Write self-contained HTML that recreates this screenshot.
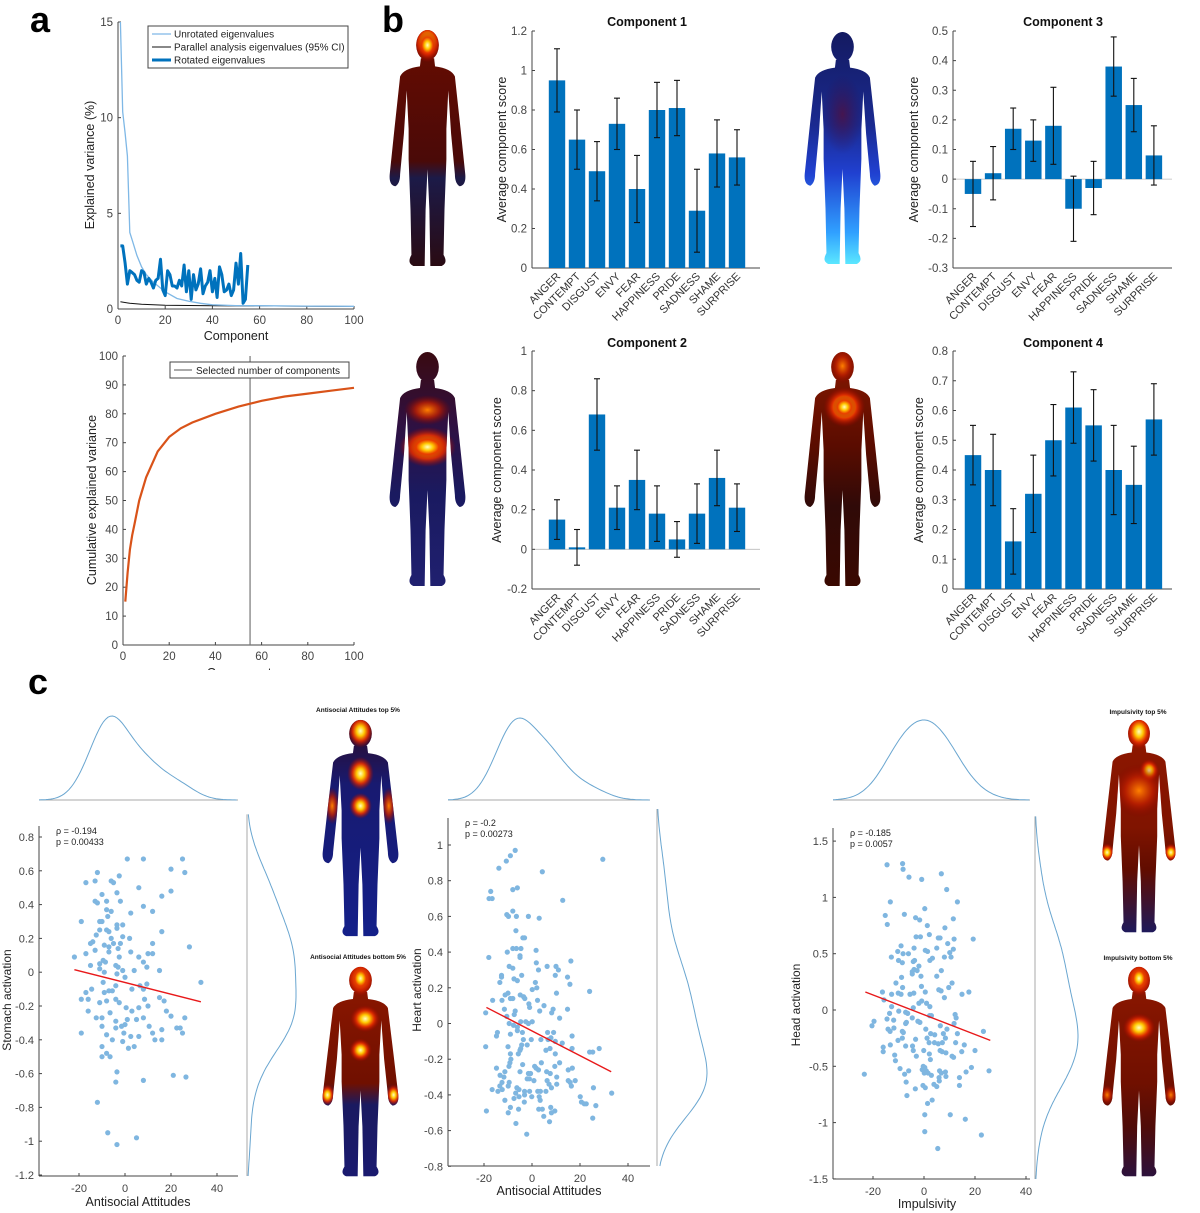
<!DOCTYPE html>
<html><head><meta charset="utf-8"><style>
html,body{margin:0;padding:0;background:#fff;}
svg{display:block;font-family:"Liberation Sans",sans-serif;}
</style></head><body>
<svg id="fig" width="1200" height="1213" viewBox="0 0 1200 1213" xmlns="http://www.w3.org/2000/svg">
<defs>
<radialGradient id="hot" cx="0.5" cy="0.5" r="0.5">
<stop offset="0" stop-color="#ffffc0"/><stop offset="0.3" stop-color="#ffc800"/><stop offset="0.6" stop-color="#e83000" stop-opacity="0.9"/><stop offset="1" stop-color="#a00000" stop-opacity="0"/>
</radialGradient>
<radialGradient id="warm" cx="0.5" cy="0.5" r="0.5">
<stop offset="0" stop-color="#ff8000"/><stop offset="0.5" stop-color="#c02000" stop-opacity="0.8"/><stop offset="1" stop-color="#800000" stop-opacity="0"/>
</radialGradient>
<radialGradient id="dim" cx="0.5" cy="0.5" r="0.5">
<stop offset="0" stop-color="#501040" stop-opacity="0.8"/><stop offset="1" stop-color="#301050" stop-opacity="0"/>
</radialGradient>
</defs>
<text x="30" y="32" font-size="36" font-weight="bold">a</text>
<text x="382" y="32" font-size="36" font-weight="bold">b</text>
<text x="28" y="694" font-size="36" font-weight="bold">c</text>
</svg>
<script>
const NS='http://www.w3.org/2000/svg';
const svg=document.getElementById('fig');
function mk(tag,attrs,name,parent){
  const el=document.createElementNS(NS,tag);
  for(const k in attrs) el.setAttribute(k,attrs[k]);
  
  
  (parent||svg).appendChild(el);
  return el;
}
function txt(x,y,s,opts,name,parent){
  const el=mk('text',Object.assign({x:x,y:y,'font-size':11.5,fill:'#444'},opts||{}),name,parent);
  el.textContent=s;return el;
}

// ===== Panel a data =====
const unrotX=[1,2,3,4,5,6,8,10,12,15,18,20,25,30,35,40,50,60,80,100];
const unrotY=[15,10.3,9.2,8,4,3.6,2.8,2.2,1.8,1.4,1.1,0.9,0.55,0.4,0.3,0.22,0.18,0.17,0.15,0.14];
const parX=[1,5,10,20,40,100];
const parY=[0.38,0.3,0.25,0.2,0.17,0.13];
const rotY=[3.3,3.3,2.4,1.3,2.0,1.9,1.8,1.5,1.4,2.0,1.9,1.3,1.6,1.4,1.1,1.5,1.6,2.6,1.0,0.7,2.0,1.8,1.2,1.2,1.1,1.5,1.2,2.3,0.9,2.0,0.5,1.8,1.0,1.3,2.1,0.8,1.2,1.4,2.0,0.9,1.6,0.6,2.2,1.8,0.9,1.0,1.3,0.7,1.0,2.4,1.3,2.9,0.3,0.5,2.3];
const cumX=[1,2,3,4,5,7,10,15,20,25,30,40,50,55,60,70,80,90,100];
const cumY=[15,25,33,38,42,50,58,67,72,75,77,80,82.5,83.5,84.5,86,87,88,89];
const selectedComponents=55;
const aTopYTicks=[0,5,10,15];
const aXTicks=[0,20,40,60,80,100];
const aBotYTicks=[0,10,20,30,40,50,60,70,80,90,100];

function axesBasic(L,R,T,B,name){
  mk('line',{x1:L,y1:T,x2:L,y2:B,stroke:'#444','stroke-width':1},name+'-y-axis');
  mk('line',{x1:L,y1:B,x2:R,y2:B,stroke:'#444','stroke-width':1},name+'-x-axis');
}
function poly(pts,opts,name){
  return mk('polyline',Object.assign({points:pts.map(p=>p[0].toFixed(1)+','+p[1].toFixed(1)).join(' '),fill:'none'},opts),name);
}
// top a
(function(){
  const L=118,R=354,T=22,B=309;
  const x=v=>L+v/100*(R-L), y=v=>B-v/15*(B-T);
  axesBasic(L,R,T,B,'eigen');
  aTopYTicks.forEach(t=>{mk('line',{x1:L,y1:y(t),x2:L+3,y2:y(t),stroke:'#444'},'eigen-y-tick');txt(L-5,y(t)+4,String(t),{'text-anchor':'end'},'eigen-y-tick-label');});
  aXTicks.forEach(t=>{mk('line',{x1:x(t),y1:B,x2:x(t),y2:B-3,stroke:'#444'},'eigen-x-tick');txt(x(t),B+15,String(t),{'text-anchor':'middle'},'eigen-x-tick-label');});
  txt(236,340,'Component',{'text-anchor':'middle','font-size':12.5,fill:'#222'},'eigen-x-axis-title');
  txt(0,0,'Explained variance (%)',{'text-anchor':'middle','font-size':12.5,fill:'#222',transform:'translate(94,165) rotate(-90)'},'eigen-y-axis-title');
  poly(parX.map((v,i)=>[x(v),y(parY[i])]),{stroke:'#111','stroke-width':1},'parallel-analysis-line');
  poly(unrotX.map((v,i)=>[x(v),y(unrotY[i])]),{stroke:'#7fb8e6','stroke-width':1.3},'unrotated-eigenvalues-line');
  poly(rotY.map((v,i)=>[x(i+1),y(v)]),{stroke:'#0072BD','stroke-width':3,'stroke-linejoin':'round'},'rotated-eigenvalues-line');
  mk('rect',{x:148,y:26,width:200,height:42,fill:'#fff',stroke:'#444'},'eigen-legend');
  const ent=[['Unrotated eigenvalues','#7fb8e6',1.3],['Parallel analysis eigenvalues (95% CI)','#111',1],['Rotated eigenvalues','#0072BD',3]];
  ent.forEach((e,i)=>{const yy=34+i*13;mk('line',{x1:152,y1:yy,x2:171,y2:yy,stroke:e[1],'stroke-width':e[2]},'legend-swatch');txt(174,yy+3.5,e[0],{'font-size':10,fill:'#222'},'legend-entry');});
})();
// bottom a
(function(){
  const L=123,R=354,T=356,B=645;
  const x=v=>L+v/100*(R-L), y=v=>B-v/100*(B-T);
  axesBasic(L,R,T,B,'cumulative');
  aBotYTicks.forEach(t=>{mk('line',{x1:L,y1:y(t),x2:L+3,y2:y(t),stroke:'#444'},'cum-y-tick');txt(L-5,y(t)+4,String(t),{'text-anchor':'end'},'cum-y-tick-label');});
  aXTicks.forEach(t=>{mk('line',{x1:x(t),y1:B,x2:x(t),y2:B-3,stroke:'#444'},'cum-x-tick');txt(x(t),B+15,String(t),{'text-anchor':'middle'},'cum-x-tick-label');});
  txt(239,677,'Component',{'text-anchor':'middle','font-size':12.5,fill:'#222'},'cum-x-axis-title');
  mk('rect',{x:150,y:670,width:200,height:12,fill:'#fff'},'title-crop-mask');
  txt(0,0,'Cumulative explained variance',{'text-anchor':'middle','font-size':12.5,fill:'#222',transform:'translate(96,500) rotate(-90)'},'cum-y-axis-title');
  mk('line',{x1:x(selectedComponents),y1:T,x2:x(selectedComponents),y2:B,stroke:'#777','stroke-width':1.2},'selected-components-line');
  poly(cumX.map((v,i)=>[x(v),y(cumY[i])]),{stroke:'#D95319','stroke-width':2.2},'cumulative-variance-line');
  mk('rect',{x:170,y:362,width:179,height:16,fill:'#fff',stroke:'#444'},'cum-legend');
  mk('line',{x1:174,y1:370,x2:192,y2:370,stroke:'#777','stroke-width':1.2},'legend-swatch');
  txt(196,374,'Selected number of components',{'font-size':10,fill:'#222'},'legend-entry');
})();

// ===== Panel b =====
const emotions=['ANGER','CONTEMPT','DISGUST','ENVY','FEAR','HAPPINESS','PRIDE','SADNESS','SHAME','SURPRISE'];
const comp1=[0.95,0.65,0.49,0.73,0.40,0.80,0.81,0.29,0.58,0.56];
const comp1Err=[0.16,0.15,0.15,0.13,0.17,0.14,0.14,0.21,0.17,0.14];
const comp2=[0.15,0.01,0.68,0.21,0.35,0.18,0.05,0.18,0.36,0.21];
const comp2Err=[0.10,0.09,0.18,0.11,0.15,0.14,0.09,0.15,0.14,0.12];
const comp3=[-0.05,0.02,0.17,0.13,0.18,-0.10,-0.03,0.38,0.25,0.08];
const comp3Err=[0.11,0.09,0.07,0.07,0.13,0.11,0.09,0.10,0.09,0.10];
const comp4=[0.45,0.40,0.16,0.32,0.50,0.61,0.55,0.40,0.35,0.57];
const comp4Err=[0.10,0.12,0.11,0.13,0.12,0.12,0.12,0.15,0.13,0.12];
const c1Ticks=[0,0.2,0.4,0.6,0.8,1,1.2];
const c2Ticks=[-0.2,0,0.2,0.4,0.6,0.8,1];
const c3Ticks=[-0.3,-0.2,-0.1,0,0.1,0.2,0.3,0.4,0.5];
const c4Ticks=[0,0.1,0.2,0.3,0.4,0.5,0.6,0.7,0.8];

function barChart(c){
  const y=v=>c.B-(v-c.ymin)/(c.ymax-c.ymin)*(c.B-c.T);
  const x=i=>c.L+c.off+i*c.step;
  mk('line',{x1:c.L,y1:c.T,x2:c.L,y2:c.B,stroke:'#444'},c.name+'-y-axis');
  mk('line',{x1:c.L,y1:c.B,x2:c.R,y2:c.B,stroke:'#444'},c.name+'-x-axis');
  if(c.ymin<0) mk('line',{x1:c.L,y1:y(0),x2:c.R,y2:y(0),stroke:'#bbb','stroke-width':0.8},c.name+'-zero-line');
  c.ticks.forEach(t=>{mk('line',{x1:c.L,y1:y(t),x2:c.L+3,y2:y(t),stroke:'#444'},c.name+'-y-tick');txt(c.L-5,y(t)+4,String(t),{'text-anchor':'end'},c.name+'-y-tick-label');});
  c.vals.forEach((v,i)=>{
    const cx=x(i),w=c.step*0.82;
    mk('rect',{x:cx-w/2,y:Math.min(y(v),y(0)),width:w,height:Math.abs(y(v)-y(0)),fill:'#0072BD'},c.name+'-bar-'+emotions[i].toLowerCase());
    const e=c.errs[i];
    mk('line',{x1:cx,y1:y(v-e),x2:cx,y2:y(v+e),stroke:'#111','stroke-width':1.1},'error-bar');
    mk('line',{x1:cx-3,y1:y(v+e),x2:cx+3,y2:y(v+e),stroke:'#111','stroke-width':1.1},'error-cap');
    mk('line',{x1:cx-3,y1:y(v-e),x2:cx+3,y2:y(v-e),stroke:'#111','stroke-width':1.1},'error-cap');
    txt(0,0,emotions[i],{'text-anchor':'end','font-size':11,fill:'#333',transform:`translate(${cx+4},${c.B+9}) rotate(-45)`},c.name+'-category-label');
  });
  txt(c.tx,c.ty,c.title,{'text-anchor':'middle','font-size':12.5,'font-weight':'bold',fill:'#111'},c.name+'-title');
  txt(0,0,'Average component score',{'text-anchor':'middle','font-size':12.5,fill:'#222',transform:`translate(${c.lx},${(c.T+c.B)/2}) rotate(-90)`},c.name+'-y-axis-title');
}
barChart({name:'component-1',L:532,R:760,T:31,B:268,ymin:0,ymax:1.2,off:25,step:20,vals:comp1,errs:comp1Err,ticks:c1Ticks,title:'Component 1',tx:647,ty:26,lx:506});
barChart({name:'component-2',L:532,R:760,T:351,B:589,ymin:-0.2,ymax:1,off:25,step:20,vals:comp2,errs:comp2Err,ticks:c2Ticks,title:'Component 2',tx:647,ty:347,lx:501});
barChart({name:'component-3',L:953,R:1172,T:31,B:268,ymin:-0.3,ymax:0.5,off:20,step:20.1,vals:comp3,errs:comp3Err,ticks:c3Ticks,title:'Component 3',tx:1063,ty:26,lx:918});
barChart({name:'component-4',L:953,R:1172,T:351,B:589,ymin:0,ymax:0.8,off:20,step:20.1,vals:comp4,errs:comp4Err,ticks:c4Ticks,title:'Component 4',tx:1063,ty:347,lx:923});

// ===== body maps =====
const bodyPath='M38 30 L52 30 L53 38 Q70 40 74 48 L80 100 L85 145 Q86 156 79 157 Q74 154 74 145 L70 105 L67 62 L65 100 L65 130 L63 180 L62 225 Q67 233 60 236 L48 236 L47 180 L45 140 L43 180 L42 236 L30 236 Q23 233 28 225 L27 180 L25 130 L25 100 L23 62 L20 105 L16 145 Q16 154 11 157 Q4 156 5 145 L10 100 L16 48 Q20 40 37 38 Z';
let bid=0;
function body(X,Y,W,H,stops,spots,name){
  bid++;
  const g=mk('g',{transform:`translate(${X},${Y}) scale(${W/90},${H/240})`},name);
  const defs=mk('defs',{},'body-defs',g);
  const cp=mk('clipPath',{id:'bc'+bid},'body-clip',defs);
  mk('path',{d:bodyPath},'body-clip-shape',cp);
  mk('ellipse',{cx:45,cy:17,rx:12,ry:15},'body-clip-head',cp);
  const lg=mk('linearGradient',{id:'bg'+bid,x1:0,y1:0,x2:0,y2:1},'body-base-gradient',defs);
  stops.forEach(s=>mk('stop',{offset:s[0],'stop-color':s[1]},'gradient-stop',lg));
  const inner=mk('g',{'clip-path':`url(#bc${bid})`},'body-fill',g);
  mk('rect',{x:0,y:0,width:90,height:240,fill:`url(#bg${bid})`},'body-base',inner);
  spots.forEach(s=>mk('ellipse',{cx:s[0],cy:s[1],rx:s[2],ry:s[3],fill:`url(#${s[4]})`},'activation-hotspot',inner));
}
body(385,28,85,242,[[0,'#6a0c00'],[0.55,'#4a0a08'],[0.62,'#1c1a48'],[1,'#2a0a10']],[[45,14,16,20,'hot'],[45,17,10,13,'hot']],'body-map-component-1');
body(800,30,85,238,[[0,'#141a60'],[0.4,'#1a2a90'],[0.6,'#2040d0'],[0.85,'#30a0ff'],[1,'#60f0ff']],[[45,85,22,40,'dim']],'body-map-component-3');
body(385,350,85,240,[[0,'#3a0a10'],[0.3,'#301040'],[0.6,'#1a1a60'],[1,'#202070']],[[45,97,30,20,'hot'],[45,97,20,12,'hot'],[45,60,25,15,'warm']],'body-map-component-2');
body(800,350,85,240,[[0,'#8a1a00'],[0.4,'#5a0c00'],[0.65,'#300a08'],[1,'#3a0800']],[[47,57,22,20,'hot'],[47,57,12,11,'hot'],[45,16,14,18,'warm']],'body-map-component-4');
body(318,718,85,222,[[0,'#300a20'],[0.3,'#181a70'],[1,'#14208a']],[[45,14,14,18,'hot'],[45,60,14,18,'hot'],[45,95,12,14,'hot'],[15,95,8,20,'warm'],[75,95,8,20,'warm']],'body-map-antisocial-top');
body(318,965,85,215,[[0,'#901800'],[0.55,'#701000'],[0.65,'#1a1a60'],[1,'#1a1a70']],[[45,15,15,20,'hot'],[45,15,10,14,'hot'],[50,60,16,15,'hot'],[45,95,12,13,'hot'],[10,145,8,12,'hot'],[80,145,8,12,'hot']],'body-map-antisocial-bottom');
body(1098,718,82,218,[[0,'#901800'],[0.5,'#801400'],[0.7,'#600c00'],[1,'#1a1a60']],[[45,15,15,20,'hot'],[56,58,11,13,'hot'],[10,148,8,10,'hot'],[80,148,8,10,'hot'],[45,80,30,30,'warm']],'body-map-impulsivity-top');
body(1098,965,82,215,[[0,'#901800'],[0.55,'#701000'],[0.75,'#500c08'],[1,'#2a1240']],[[45,15,15,20,'hot'],[45,15,10,14,'hot'],[45,70,18,16,'hot'],[10,145,8,12,'warm'],[80,145,8,12,'warm']],'body-map-impulsivity-bottom');
txt(358,712,'Antisocial Attitudes top 5%',{'text-anchor':'middle','font-size':6.5,'font-weight':'bold',fill:'#111'},'body-map-title');
txt(358,959,'Antisocial Attitudes bottom 5%',{'text-anchor':'middle','font-size':6.5,'font-weight':'bold',fill:'#111'},'body-map-title');
txt(1138,714,'Impulsivity top 5%',{'text-anchor':'middle','font-size':6.5,'font-weight':'bold',fill:'#111'},'body-map-title');
txt(1138,960,'Impulsivity bottom 5%',{'text-anchor':'middle','font-size':6.5,'font-weight':'bold',fill:'#111'},'body-map-title');

// ===== Panel c data =====
const s1X=[1,8,25,-12,-2.5,20,26,-17,-13,-6,-5,6,20,-10,-3.5,16,-13,-12,-8,-2,8,-8,-6,2.5,12,-19,-11,-10,-7.5,-3.5,-1,-3.5,-11,-8,-7,16,-12.5,-6,-1,2,-14,-15,-5,-2,12,28,-9,-7,-3,-17,-13,-7,2.5,10,12,-22,-9.5,-8.5,-2.5,6,-15,-11,-4,-3,8,9.5,15,-11,-9,-1,4,-3.5,0,-9.5,-4,6.5,9.5,33,-17,-14.5,-9,-7,-5.5,3,8,-19,-16,-11,-8,-4,-2.5,8.5,15,17,-12.5,-6.5,0.5,3,6,10,-10,-4,1,5,8,18,20,26,-10,-1.5,0,10.5,16,22.5,24,-19,-8,-4,2.5,6,12,25,-5.5,-1,13,16,-10,1.5,4,-10,-8,-6.5,-3.5,-4,8,21,26.5,-12,-7.5,-3.5,5,-0.5,-16];
const s1Y=[0.67,0.67,0.67,0.59,0.57,0.61,0.59,0.53,0.54,0.54,0.53,0.5,0.48,0.46,0.47,0.45,0.42,0.41,0.42,0.42,0.39,0.37,0.36,0.35,0.36,0.3,0.3,0.3,0.33,0.28,0.28,0.26,0.25,0.25,0.24,0.24,0.22,0.2,0.21,0.2,0.18,0.17,0.17,0.17,0.17,0.15,0.16,0.15,0.14,0.11,0.13,0.12,0.12,0.11,0.11,0.09,0.07,0.06,0.09,0.09,0.04,0.05,0.04,0.03,0.06,0.03,0.01,0.02,0,0.01,0.01,-0.01,-0.03,-0.06,-0.08,-0.08,-0.07,-0.06,-0.12,-0.1,-0.12,-0.11,-0.11,-0.1,-0.1,-0.16,-0.16,-0.18,-0.17,-0.16,-0.18,-0.16,-0.15,-0.17,-0.27,-0.24,-0.21,-0.23,-0.21,-0.2,-0.27,-0.29,-0.28,-0.28,-0.27,-0.23,-0.26,-0.27,-0.32,-0.32,-0.31,-0.32,-0.34,-0.33,-0.33,-0.36,-0.37,-0.33,-0.38,-0.38,-0.36,-0.36,-0.4,-0.41,-0.4,-0.4,-0.44,-0.45,-0.44,-0.5,-0.48,-0.5,-0.59,-0.65,-0.64,-0.61,-0.62,-0.77,-0.95,-1.02,-0.98,-0.36,-0.23];
const s2X=[-7,-9,-10.7,-13.8,4.3,29.5,-17.2,-17.9,-16.6,-8,-6.1,12.8,-8,-10.5,-9.8,-6.5,-1.5,3,-6.7,-3.8,-3.1,-18,-10.3,-8,-6.5,-4.6,-5,-5,1.7,1.8,2.7,-9.5,-8,-12.7,-12.7,-13.4,-7.5,-6.1,-4.3,6.3,10,11,16.2,9.7,14.8,15.8,1.4,2,0.1,24,10.2,-10,-11.2,-9,-8,-12.5,-16.4,-4.9,-3.5,-3,-1.3,-1,2.3,5,3.2,8.8,8.2,14.8,11.5,-19.3,-11.5,-10.5,-7.4,-7,-9.5,-7.7,-4.7,-2.6,-1.5,0.1,-6.1,-6.1,-9,-14.4,-14.8,-4,-3.6,-0.3,3.7,6.5,9,6.7,7.9,9.7,12.6,16.7,-4.3,-2,-4.7,-5,5.8,7.5,9.7,16.7,24,25.3,28,-19.3,-10,-9,-5.7,-8.8,-9.2,-9.6,-3.9,1.1,1.7,2.7,3.9,6.1,11.5,9.5,-14.8,-13.3,-11.7,-11.3,-5,-1.5,-0.6,15.1,16.8,7.6,10.3,-2,-1.1,0.8,6.3,7.1,10.3,15.1,15.9,16.4,18,-12.5,-9.5,-9.9,-13.4,-12.4,-14.2,-16.6,-6.3,-5.4,-6.8,-3.1,-3.1,-1,2.4,3.5,5.8,8.1,33.2,25.6,-11.3,-7.5,-5.4,-0.1,3,3.4,-3.2,20.1,20.6,21.8,22.6,26.6,-19,-9,-9.9,-5.6,2.8,4.3,7.8,8.1,9.5,4.9,7.3,25.3,-6.7,-2.2];
const s2Y=[0.97,0.94,0.91,0.87,0.85,0.92,0.74,0.7,0.7,0.75,0.76,0.69,0.63,0.61,0.6,0.6,0.6,0.59,0.52,0.48,0.48,0.37,0.4,0.42,0.42,0.42,0.38,0.37,0.41,0.34,0.3,0.32,0.31,0.27,0.26,0.23,0.25,0.24,0.27,0.32,0.32,0.3,0.35,0.27,0.26,0.22,0.23,0.2,0.19,0.18,0.17,0.17,0.16,0.14,0.14,0.13,0.13,0.16,0.15,0.14,0.11,0.09,0.13,0.1,0.07,0.08,0.06,0.08,0.03,0.06,0.08,0.04,0.05,0.07,0,-0.01,0.01,0.01,0,0.01,-0.02,-0.04,-0.06,-0.05,-0.07,-0.05,-0.09,-0.09,-0.09,-0.05,-0.05,-0.09,-0.08,-0.1,-0.11,-0.07,-0.12,-0.12,-0.14,-0.15,-0.15,-0.14,-0.17,-0.14,-0.16,-0.16,-0.14,-0.13,-0.13,-0.17,-0.17,-0.2,-0.22,-0.24,-0.23,-0.24,-0.25,-0.26,-0.22,-0.27,-0.22,-0.24,-0.25,-0.29,-0.3,-0.27,-0.27,-0.28,-0.28,-0.26,-0.25,-0.28,-0.3,-0.31,-0.31,-0.32,-0.32,-0.34,-0.34,-0.32,-0.33,-0.35,-0.32,-0.33,-0.33,-0.35,-0.35,-0.37,-0.38,-0.37,-0.36,-0.37,-0.39,-0.38,-0.4,-0.38,-0.38,-0.38,-0.38,-0.36,-0.39,-0.36,-0.43,-0.42,-0.41,-0.41,-0.41,-0.43,-0.44,-0.41,-0.44,-0.45,-0.45,-0.46,-0.49,-0.47,-0.5,-0.48,-0.48,-0.48,-0.47,-0.5,-0.49,-0.52,-0.55,-0.53,-0.56,-0.62];
const s3X=[-14.5,-8.4,-8.2,-5.9,-0.9,6.8,8.9,-13.2,13.1,-15.2,-7.7,-14.4,-3.3,-1.7,0.3,1.3,11.5,8.2,2.1,-3.1,-1.4,5.6,6.3,11.8,19.3,-9,9.3,-10.3,-8.2,-6.1,-3.9,0.5,1.4,5,11.5,10.1,-12.8,-10,-8.5,-4.2,-3.7,2.3,3.3,8,10.6,-2,-4.6,-3.9,-2.7,-1.2,-4.6,6.8,5,-8.8,-11,11,-8.4,-1,5.8,6.7,9.7,17.6,14.9,-16.3,-12.7,-10.1,-9,-5.5,-4,0.5,8,-15.7,-2,-0.9,1,2.3,-12.7,-9.9,-7.2,-6.4,-4.2,-4.6,-1.6,-2.4,-13.5,-14.5,-11.9,-19.6,-20.4,2.2,2.9,12.2,12.6,11.8,6.4,9,13.1,23.3,-14.1,-13.3,-11.8,-8.5,-8.1,-7.2,-6.9,0.7,2.6,4.2,7.6,8.4,7.2,-10.2,-8.5,-7.2,-3.3,1.2,2,4.1,5.6,12.4,-16,-16,-13.2,-11.5,-11.2,-4.5,-4.2,-3,-0.1,2.1,2.5,6.3,7.1,8.6,11,11.6,14.8,15.8,20,-9.4,-7.6,-6,-0.7,-0.3,0.3,0.9,0.1,1.6,2.9,6.1,5.9,6.8,8.4,8.6,13.9,16.5,18.6,25.5,-23.4,-7,-3.4,-0.4,0.5,3.9,5,6,13.9,-6.7,3.2,1.4,0.3,10.3,16.2,0.3,22.5,5.4];
const s3Y=[1.29,1.3,1.25,1.18,1.16,1.21,1.07,0.96,0.96,0.84,0.85,0.76,0.82,0.8,0.9,0.75,0.81,0.73,0.67,0.65,0.65,0.64,0.64,0.63,0.63,0.57,0.59,0.52,0.5,0.5,0.55,0.53,0.52,0.55,0.54,0.51,0.47,0.44,0.42,0.43,0.44,0.44,0.46,0.47,0.47,0.39,0.34,0.36,0.35,0.3,0.32,0.35,0.3,0.29,0.24,0.24,0.2,0.21,0.18,0.17,0.2,0.16,0.14,0.16,0.14,0.15,0.14,0.14,0.15,0.16,0.11,0.09,0.06,0.08,0.06,0.03,0.03,-0.01,-0.02,-0.03,0.02,-0.07,-0.11,-0.1,-0.03,-0.08,-0.09,-0.1,-0.14,-0.05,-0.05,-0.04,-0.07,-0.12,-0.14,-0.17,-0.21,-0.19,-0.17,-0.19,-0.16,-0.19,-0.2,-0.12,-0.11,-0.17,-0.21,-0.22,-0.21,-0.25,-0.29,-0.27,-0.25,-0.32,-0.26,-0.25,-0.29,-0.29,-0.3,-0.29,-0.33,-0.37,-0.31,-0.4,-0.45,-0.32,-0.36,-0.41,-0.36,-0.39,-0.44,-0.36,-0.37,-0.38,-0.41,-0.42,-0.37,-0.31,-0.36,-0.52,-0.57,-0.54,-0.53,-0.5,-0.51,-0.54,-0.56,-0.56,-0.58,-0.54,-0.6,-0.56,-0.55,-0.59,-0.6,-0.55,-0.51,-0.54,-0.57,-0.64,-0.7,-0.67,-0.69,-0.66,-0.68,-0.63,-0.67,-0.76,-0.8,-0.83,-0.93,-0.93,-0.97,-1.08,-1.11,-1.23];
const s1Fit=[[-22,33],[0.015,-0.175]];
const s2Fit=[[-19,33],[0.09,-0.27]];
const s3Fit=[[-23,26],[0.16,-0.27]];
const xTicksC=[-20,0,20,40];
const s1YTicks=[0.8,0.6,0.4,0.2,0,-0.2,-0.4,-0.6,-0.8,-1,-1.2];
const s2YTicks=[1,0.8,0.6,0.4,0.2,0,-0.2,-0.4,-0.6,-0.8];
const s3YTicks=[1.5,1,0.5,0,-0.5,-1,-1.5];

function kde(vals,grid,bw){return grid.map(g=>vals.reduce((s,v)=>s+Math.exp(-0.5*((g-v)/bw)**2),0));}
function scatter(c){
  const x=v=>c.x0+v*c.xs, y=v=>c.y0-v*c.ys;
  mk('line',{x1:c.L,y1:c.T,x2:c.L,y2:c.B,stroke:'#444'},c.name+'-y-axis');
  mk('line',{x1:c.L,y1:c.B,x2:c.R,y2:c.B,stroke:'#444'},c.name+'-x-axis');
  c.yt.forEach(t=>{mk('line',{x1:c.L,y1:y(t),x2:c.L+3,y2:y(t),stroke:'#444'},c.name+'-y-tick');txt(c.L-5,y(t)+4,String(t),{'text-anchor':'end','font-size':11},c.name+'-y-tick-label');});
  xTicksC.forEach(t=>{mk('line',{x1:x(t),y1:c.B,x2:x(t),y2:c.B-3,stroke:'#444'},c.name+'-x-tick');txt(x(t),c.B+16,String(t),{'text-anchor':'middle','font-size':11},c.name+'-x-tick-label');});
  txt(c.xlx,c.xly,c.xl,{'text-anchor':'middle','font-size':12.5,fill:'#222'},c.name+'-x-axis-title');
  txt(0,0,c.yl,{'text-anchor':'middle','font-size':12,fill:'#222',transform:`translate(${c.ylx},${c.yly}) rotate(-90)`},c.name+'-y-axis-title');
  c.X.forEach((v,i)=>mk('circle',{cx:x(v),cy:y(c.Y[i]),r:2.6,fill:'#7fb6e0'},c.name+'-point'));
  mk('line',{x1:x(c.fit[0][0]),y1:y(c.fit[1][0]),x2:x(c.fit[0][1]),y2:y(c.fit[1][1]),stroke:'#e8191a','stroke-width':1.4},c.name+'-regression-line');
  txt(c.L+17,c.T+8,'ρ = '+c.rho,{'font-size':9,fill:'#222'},c.name+'-rho-label');
  txt(c.L+17,c.T+19,'p = '+c.p,{'font-size':9,fill:'#222'},c.name+'-p-label');
  const gx=[];for(let v=(c.L-c.x0)/c.xs;v<=(c.R-c.x0)/c.xs;v+=1)gx.push(v);
  const dx=kde(c.X,gx,c.bwx),mx=Math.max(...dx);
  mk('line',{x1:c.L,y1:800,x2:c.R,y2:800,stroke:'#aaa'},c.name+'-top-marginal-baseline');
  poly(gx.map((g,i)=>[x(g),800-dx[i]/mx*c.th]),{stroke:'#6aa6d0','stroke-width':1},c.name+'-top-marginal-density');
  const gy=[];for(let v=(c.y0-c.B)/c.ys;v<=(c.y0-c.T+12)/c.ys;v+=0.02)gy.push(v);
  const dy=kde(c.Y,gy,c.bwy),my=Math.max(...dy);
  mk('line',{x1:c.mb,y1:y(gy[gy.length-1]),x2:c.mb,y2:c.B,stroke:'#aaa'},c.name+'-right-marginal-baseline');
  poly(gy.map((g,i)=>[c.mb+dy[i]/my*c.rh,y(g)]),{stroke:'#6aa6d0','stroke-width':1},c.name+'-right-marginal-density');
}
scatter({name:'stomach-scatter',L:39,R:238,T:826,B:1176,x0:125,xs:2.3,y0:972.2,ys:169,X:s1X,Y:s1Y,fit:s1Fit,yt:s1YTicks,xl:'Antisocial Attitudes',xlx:138,xly:1206,yl:'Stomach activation',ylx:11,yly:1000,rho:'-0.194',p:'0.00433',bwx:6,bwy:0.16,th:84,mb:247,rh:49});
scatter({name:'heart-scatter',L:448,R:650,T:818,B:1166,x0:532,xs:2.4,y0:1023.5,ys:178.5,X:s2X,Y:s2Y,fit:s2Fit,yt:s2YTicks,xl:'Antisocial Attitudes',xlx:549,xly:1195,yl:'Heart activation',ylx:421,yly:990,rho:'-0.2',p:'0.00273',bwx:6,bwy:0.16,th:82,mb:657,rh:50});
scatter({name:'head-scatter',L:833,R:1030,T:828,B:1179,x0:924,xs:2.55,y0:1010,ys:112.6,X:s3X,Y:s3Y,fit:s3Fit,yt:s3YTicks,xl:'Impulsivity',xlx:927,xly:1208,yl:'Head activation',ylx:800,yly:1005,rho:'-0.185',p:'0.0057',bwx:6.5,bwy:0.26,th:80,mb:1035,rh:43});
</script>
</body></html>
